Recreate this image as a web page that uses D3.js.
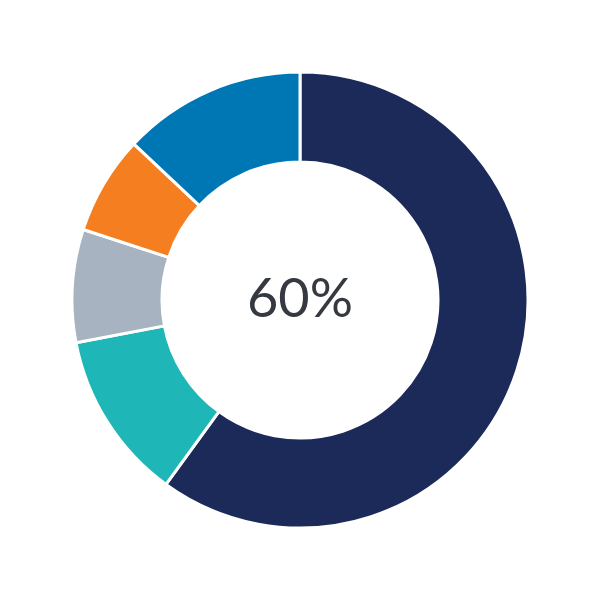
<!DOCTYPE html>
<html><head><meta charset="utf-8">
<script src="https://cdn.jsdelivr.net/npm/d3@7"></script>
<style>html,body{margin:0;padding:0;background:#fff;}</style>
</head><body>
<svg id="c" width="600" height="600"></svg>
<script>
const categories = ["A", "B", "C", "D", "E"];
const values = [60, 12, 8, 7, 13];
const colors = ["#1c2a5a", "#1eb6b6", "#a8b3c1", "#f47e20", "#0077b5"];
const centerLabel = "60%";

const svg = d3.select("#c");
const g = svg.append("g").attr("transform", "translate(300,300)");
const pie = d3.pie().sort(null).value(d => d)(values);
const arc = d3.arc().innerRadius(138).outerRadius(228);
g.selectAll("path").data(pie).join("path")
  .attr("d", arc)
  .attr("fill", (d, i) => colors[i])
  .attr("stroke", "#fff")
  .attr("stroke-width", 3);
g.append("text").text(centerLabel)
  .attr("text-anchor", "middle")
  .attr("y", -2)
  .attr("dy", "0.35em")
  .attr("font-family", "Lato")
  .attr("font-weight", 400)
  .attr("font-size", 54)
  .attr("fill", "#353a40");
</script>
</body></html>
